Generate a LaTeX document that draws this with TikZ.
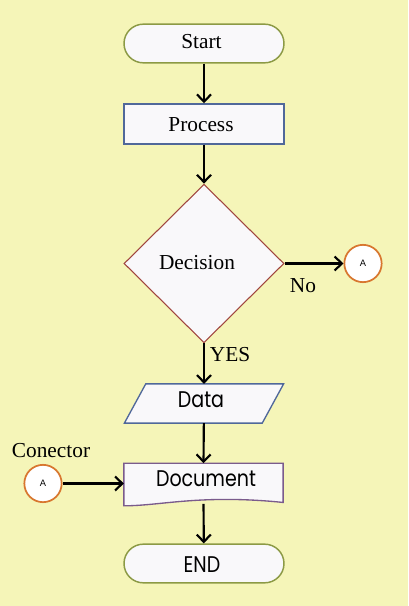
\documentclass[tikz,border=0pt]{standalone}
\usepackage{fontspec}
\setmainfont{Liberation Serif}
\newfontfamily\gothic[FakeStretch=0.84]{Poppins}
\newfontfamily\plainsans{Liberation Sans}
\usetikzlibrary{shapes.geometric,arrows.meta}
\definecolor{bgyellow}{HTML}{F5F5B8}
\definecolor{shapefill}{HTML}{F9F8FA}
\definecolor{termline}{HTML}{8C9A45}
\definecolor{procline}{HTML}{50689A}
\definecolor{decline}{HTML}{A0463F}
\definecolor{connline}{HTML}{D8772F}
\definecolor{docline}{HTML}{7A5B8C}
\tikzset{
  serif/.style={font=\fontsize{16}{18}\selectfont, anchor=base, inner sep=0pt},
  gothtext/.style={font=\gothic\fontsize{17}{19}\selectfont, anchor=base, inner sep=0pt},
  term/.style={draw=termline, fill=shapefill, line width=1.1pt, rounded corners=14.5pt,
    minimum width=120pt, minimum height=29pt, inner sep=0pt},
  proc/.style={draw=procline, fill=shapefill, line width=1.1pt,
    minimum width=120pt, minimum height=30pt, inner sep=0pt},
  decis/.style={diamond, draw=decline, fill=shapefill, line width=0.8pt,
    minimum width=120pt, minimum height=119pt, inner sep=0pt},
  databox/.style={rectangle, minimum width=103pt, minimum height=29pt, inner sep=0pt},
  conn/.style={circle, draw=connline, fill=white, line width=1.3pt,
    minimum size=28pt, inner sep=0pt, font=\plainsans\fontsize{7}{8}\selectfont},
  docbox/.style={rectangle, minimum width=119pt, minimum height=27pt, inner sep=0pt},
  flow/.style={-{Straight Barb[length=5.5pt,width=10.5pt]}, line width=1.6pt, black},
}
\begin{document}
\begin{tikzpicture}[x=0.75pt,y=-0.75pt]
\fill[bgyellow] (0,0) rectangle (408,606);
\useasboundingbox (0,0) rectangle (408,606);

\node[term] (start) at (204,43.5) {};
\node[serif] (starttext) at (201.5,49) {Start};
\node[proc] (process) at (204,124) {};
\node[serif] (proctext) at (201,132) {Process};
\node[decis] (decision) at (204,263.5) {};
\node[serif] (dectext) at (197,269) {Decision};
\node[conn] (connA) at (363,263.5) {A};
\node[serif] (no) at (303,292) {No};
\node[serif] (yes) at (230,361) {YES};

% data (parallelogram)
\node[databox] (data) at (204,403.5) {};
\draw[draw=procline, fill=shapefill, line width=1pt]
  ([xshift=8pt]data.north west) -- ([xshift=8pt]data.north east)
  -- ([xshift=-8pt]data.south east) -- ([xshift=-8pt]data.south west) -- cycle;
\node[gothtext] (datatext) at (201,407) {Data};

% document
\node[docbox] (doc) at (203.5,481.5) {};
\draw[draw=docline, fill=shapefill, line width=1pt]
  (doc.north west) -- (doc.north east) -- ([yshift=-2pt]doc.south east)
  .. controls (200,494) and (160,506) .. ([yshift=-4.5pt]doc.south west) -- cycle;
\node[gothtext] (doctext) at (206,486) {Document};

\node[conn] (connB) at (43,483.5) {A};
\node[serif] (conector) at (51,457) {Conector};
\node[term] (end) at (204,563.5) {};
\node[gothtext] (endtext) at (202,572) {END};

\draw[flow] (start) -- (process);
\draw[flow] (process) -- (decision);
\draw[flow] (decision.east) -- (connA);
\draw[flow] (decision.south) -- (data);
\draw[flow] (data) -- (doc.north);
\draw[flow] (connB) -- (connB -| doc.west);
\draw[flow] ([yshift=-3pt]doc.south) -- (end);
\end{tikzpicture}
\end{document}
